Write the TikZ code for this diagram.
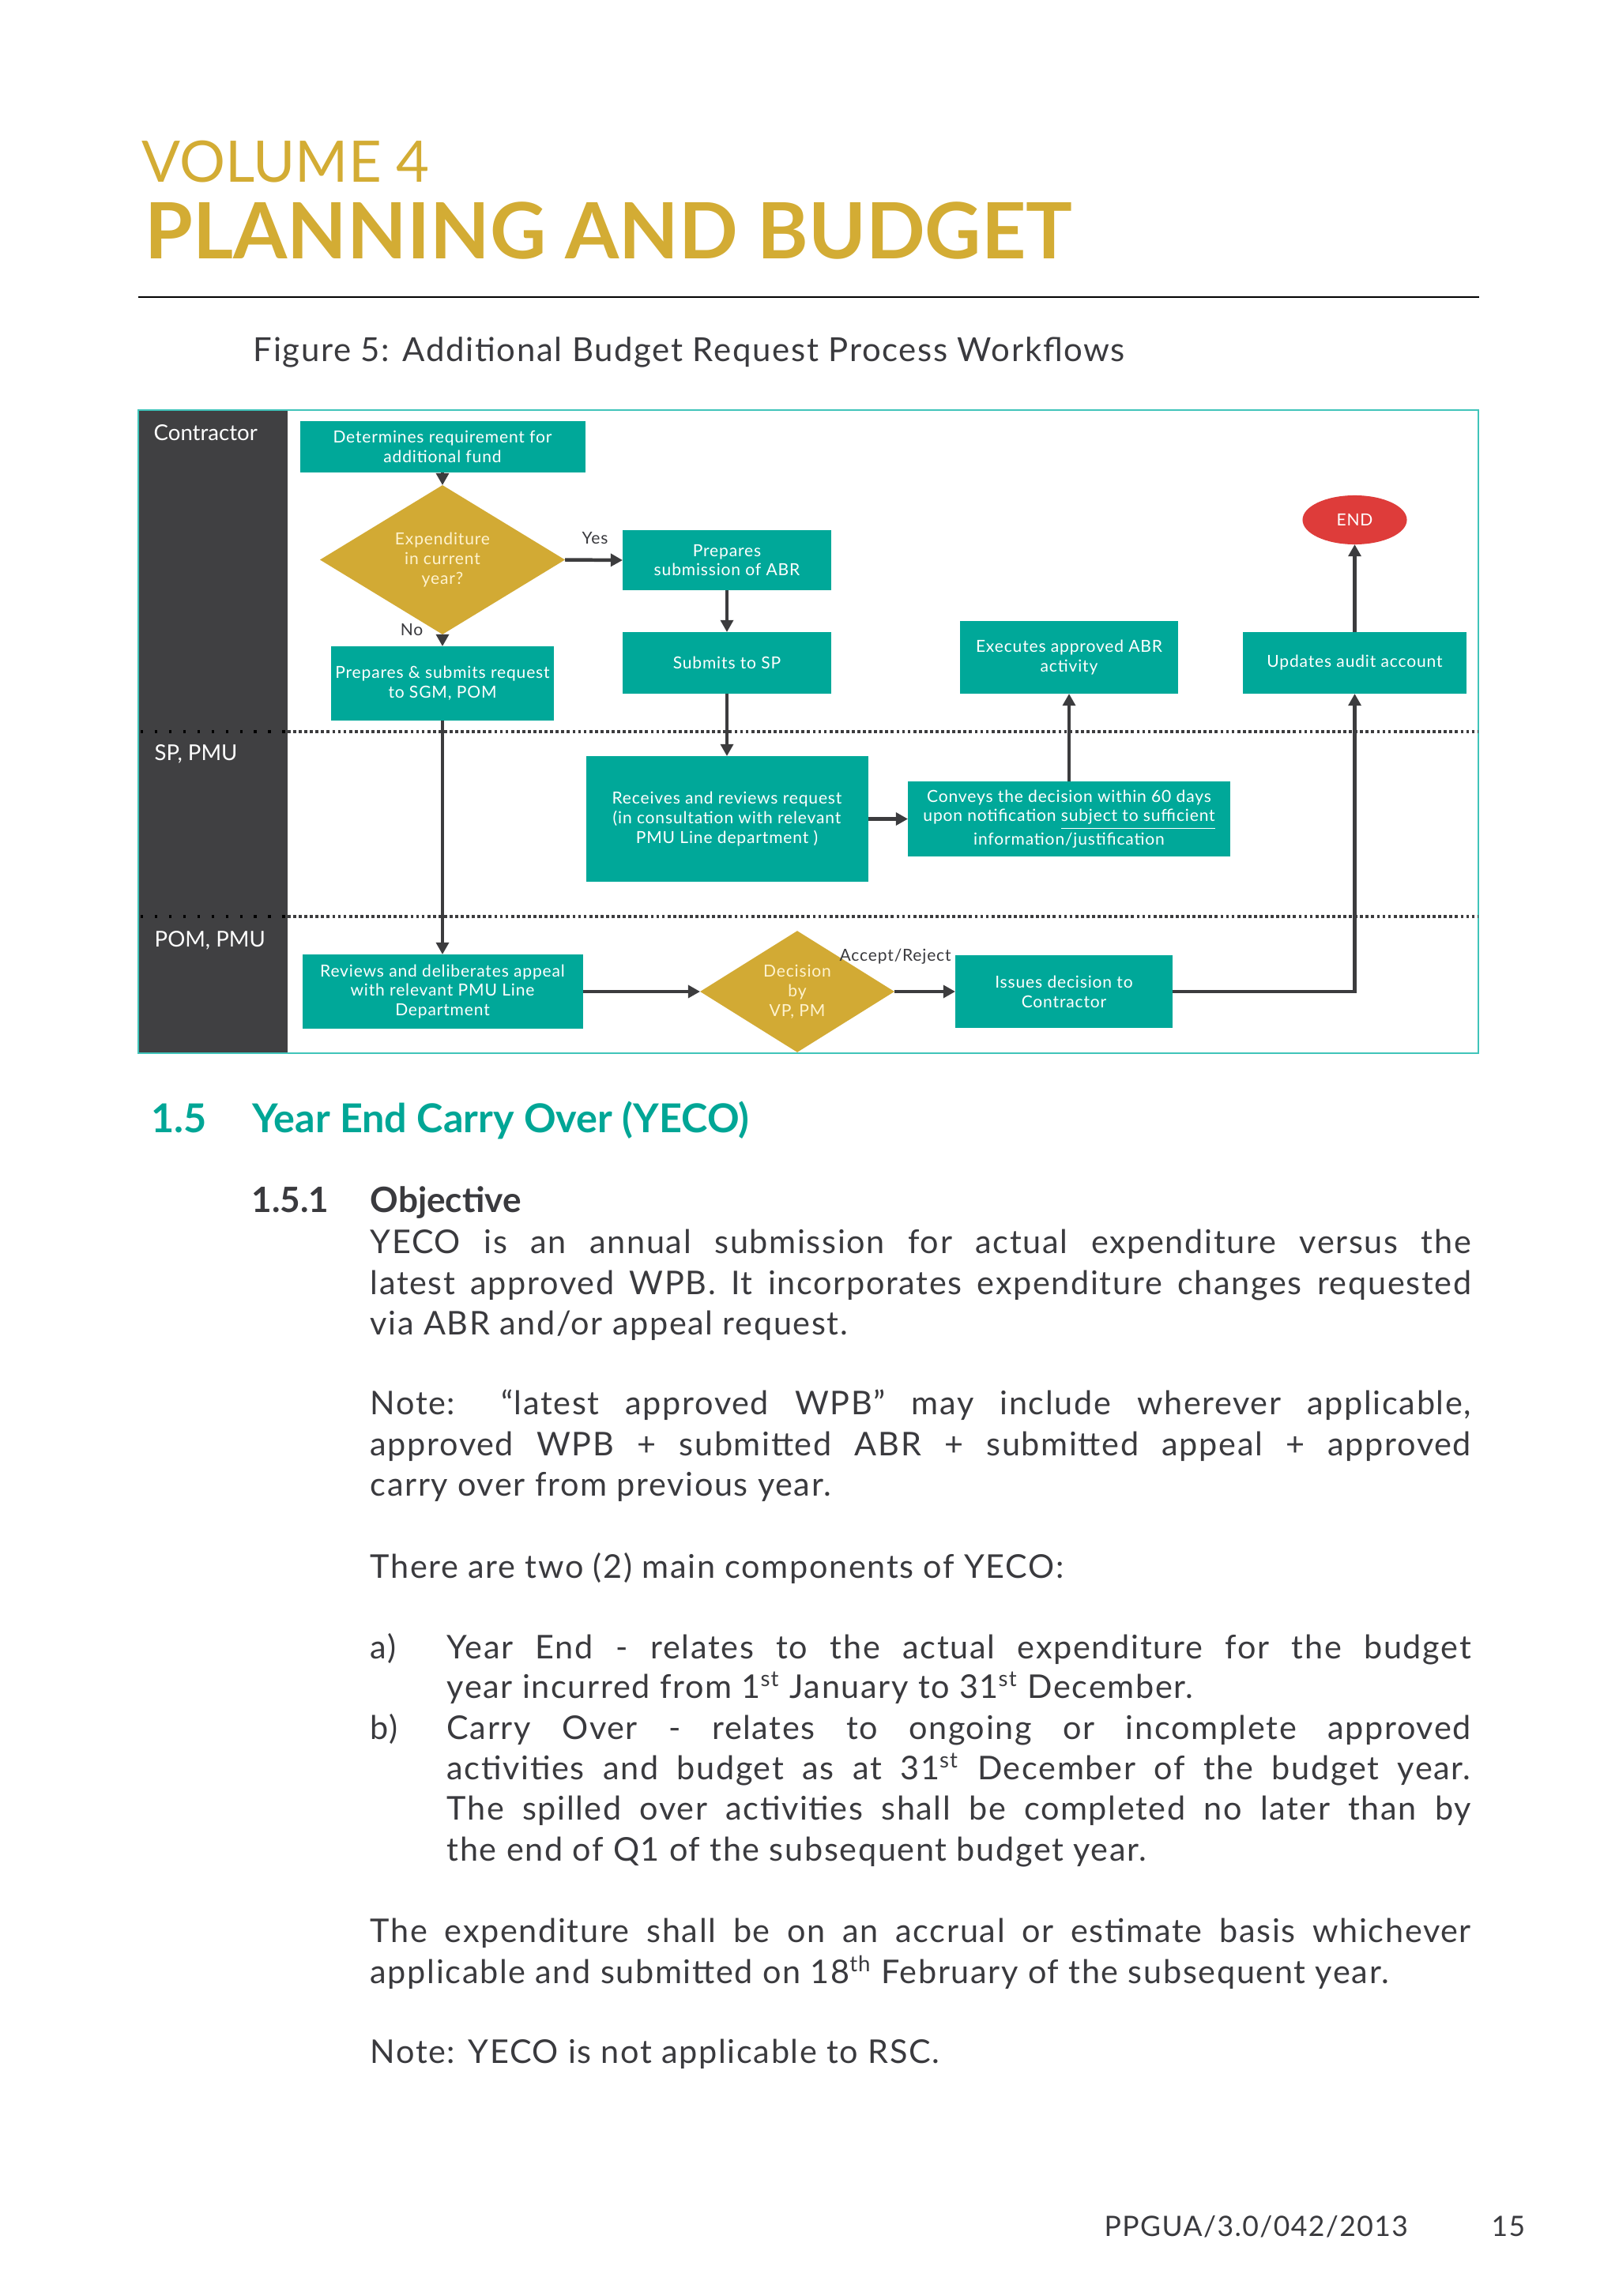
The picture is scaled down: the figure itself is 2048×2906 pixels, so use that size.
\documentclass[tikz,border=0pt]{standalone}
\usepackage{fontspec}
\setmainfont{Lato}
\newfontfamily\lsfont[LetterSpace=4]{Lato}
\usetikzlibrary{shapes.geometric,arrows.meta}
\definecolor{gold}{RGB}{211,172,52}
\definecolor{dgold}{RGB}{210,170,52}
\definecolor{teal}{RGB}{0,168,153}
\definecolor{headteal}{RGB}{0,166,150}
\definecolor{bar}{RGB}{64,64,66}
\definecolor{txt}{RGB}{58,58,62}
\definecolor{linecol}{RGB}{60,60,62}
\definecolor{endred}{RGB}{222,60,58}
\definecolor{framecol}{RGB}{64,196,186}
\definecolor{cream}{RGB}{255,243,207}
\begin{document}
\begin{tikzpicture}[x=0.29pt,y=-0.29pt,
  proc/.style={fill=teal, text=white, inner sep=0pt, outer sep=0pt, align=center,
    font=\lsfont\fontsize{6.1}{7.2}\selectfont},
  dec/.style={shape=diamond, fill=dgold, text=cream, inner sep=0pt, outer sep=0pt, align=center,
    font=\lsfont\fontsize{6.1}{7.2}\selectfont},
  term/.style={shape=ellipse, fill=endred, text=white, inner sep=0pt, outer sep=0pt,
    font=\lsfont\fontsize{6.1}{7.2}\selectfont},
  conn/.style={draw=linecol, line width=1.3pt, -{Triangle[length=4.4pt,width=4.6pt]}},
  lbl/.style={text=txt, inner sep=0pt, font=\lsfont\fontsize{6.1}{7.2}\selectfont},
  lane/.style={anchor=base west, text=white, inner sep=0pt, font=\fontsize{8}{9}\selectfont},
  body/.style={anchor=base west, inner sep=0pt, text=txt, font=\lsfont\fontsize{12}{15}\selectfont},
  dotmain/.style={draw=linecol, line width=1pt, dash pattern=on 1.1pt off 0.95pt},
  dotbar/.style={draw=black, line width=1pt, dash pattern=on 1pt off 4.2pt}
]
\useasboundingbox (0,0) rectangle (2048,2906);
\fill[white] (0,0) rectangle (2048,2906);

% ---------- header ----------
\node[anchor=base west, inner sep=0pt, text=gold, font=\fontsize{21}{21}\selectfont] (vol) at (179,231) {VOLUME 4};
\node[anchor=base west, inner sep=0pt, text=gold, font=\fontsize{28.5}{28}\selectfont\bfseries] (title) at (183,328) {PLANNING AND BUDGET};
\coordinate (ruleL) at (175,376);
\coordinate (ruleR) at (1872,376);
\draw[line width=0.8pt, black] (ruleL) -- (ruleR);
\node[anchor=base west, inner sep=0pt, text=txt, font=\lsfont\fontsize{12.15}{13}\selectfont] (cap) at (320,457) {Figure 5: Additional Budget Request Process Workflows};

% ---------- diagram frame and lanes ----------
\fill[bar] (175,519) rectangle (364,1333);
\draw[framecol, line width=0.6pt] (175,519) rectangle (1871,1333);
\draw[dotbar] (178,926) -- (364,926);
\draw[dotmain] (364,926) -- (1871,926);
\draw[dotbar] (178,1160) -- (364,1160);
\draw[dotmain] (364,1160) -- (1871,1160);
\node[lane] (l1) at (194,557) {Contractor};
\node[lane] (l2) at (195,962) {SP, PMU};
\node[lane] (l3) at (195,1198) {POM, PMU};

% ---------- nodes ----------
\node[proc, minimum width=104.69pt, minimum height=18.85pt] (b1) at (560,565.5) {Determines requirement for\\additional fund};
\node[dec, minimum width=89.9pt, minimum height=44.4pt] (d1) at (560,708.5) {Expenditure\\in current\\year?};
\node[proc, minimum width=76.56pt, minimum height=22.04pt] (b2) at (920,709) {Prepares\\submission of ABR};
\node[proc, minimum width=76.56pt, minimum height=22.62pt] (b3) at (920,839) {Submits to SP};
\node[proc, minimum width=81.78pt, minimum height=27.26pt] (b4) at (560,865) {Prepares \& submits request\\to SGM, POM};
\node[proc, minimum width=80.04pt, minimum height=26.68pt] (b5) at (1353,832) {Executes approved ABR\\activity};
\node[proc, minimum width=82.07pt, minimum height=22.62pt] (b6) at (1714.5,839) {Updates audit account};
\node[term, minimum width=38.3pt, minimum height=18pt] (end) at (1714.5,658) {END};
\node[proc, minimum width=103.53pt, minimum height=46.11pt] (b7) at (920,1036.5) {Receives and reviews request\\(in consultation with relevant\\PMU Line department )};
\node[proc, minimum width=118.32pt, minimum height=27.55pt] (b8) at (1353,1036.5) {Conveys the decision within 60 days\\upon notification \underline{subject to sufficient}\\information/justification};
\node[proc, minimum width=102.95pt, minimum height=27.26pt] (b9) at (560,1255) {Reviews and deliberates appeal\\with relevant PMU Line\\Department};
\node[dec, minimum width=71.3pt, minimum height=36pt] (d2) at (1009,1255) {Decision\\by\\VP, PM};
\node[proc, minimum width=79.75pt, minimum height=26.68pt] (b10) at (1346.5,1255) {Issues decision to\\Contractor};

% ---------- connectors ----------
\draw[conn] (b1.south) -- (d1.north);
\draw[conn] (d1.east) -- (b2.west);
\draw[conn] (d1.south) -- (b4.north);
\draw[conn] (b2.south) -- (b3.north);
\draw[conn] (b3.south) -- (b7.north);
\draw[conn] (b4.south) -- (b9.north);
\draw[conn] (b7.east) -- (b8.west);
\draw[conn] (b8.north) -- (b5.south);
\draw[conn] (b9.east) -- (d2.west);
\draw[conn] (d2.east) -- (b10.west);
\draw[conn] (b10.east) -| (b6.south);
\draw[conn] (b6.north) -- (end.south);
\node[lbl] (yes) at (753,681) {Yes};
\node[lbl] (no) at (521,797) {No};
\node[lbl, anchor=base west] (ar) at (1062,1216) {Accept/Reject};

% ---------- section text ----------
\node[anchor=base west, inner sep=0pt, text=headteal, font=\fontsize{14.6}{16}\selectfont\bfseries] (h15) at (191,1433) {1.5};
\node[anchor=base west, inner sep=0pt, text=headteal, font=\fontsize{14.6}{16}\selectfont\bfseries] (h15t) at (319,1433) {Year End Carry Over (YECO)};
\node[anchor=base west, inner sep=0pt, text=txt, font=\fontsize{12.8}{15}\selectfont\bfseries] (h151) at (318,1534) {1.5.1};
\node[anchor=base west, inner sep=0pt, text=txt, font=\fontsize{12.8}{15}\selectfont\bfseries] (h151t) at (468,1534) {Objective};

\node[body] (p1a) at (468,1586) {\makebox[404pt][s]{YECO is an annual submission for actual expenditure versus the}};
\node[body] (p1b) at (468,1638) {\makebox[404pt][s]{latest approved WPB. It incorporates expenditure changes requested}};
\node[body] (p1c) at (468,1689) {via ABR and/or appeal request.};

\node[body] (p2a) at (468,1790) {\makebox[404pt][s]{Note: “latest approved WPB” may include wherever applicable,}};
\node[body] (p2b) at (468,1842) {\makebox[404pt][s]{approved WPB + submitted ABR + submitted appeal + approved}};
\node[body] (p2c) at (468,1893) {carry over from previous year.};

\node[body] (p3) at (468,1997) {There are two (2) main components of YECO:};

\node[body] (la) at (468,2099) {a)};
\node[body] (la1) at (565,2099) {\makebox[375.8pt][s]{Year End - relates to the actual expenditure for the budget}};
\node[body] (la2) at (565,2149) {year incurred from 1\textsuperscript{st} January to 31\textsuperscript{st} December.};
\node[body] (lb) at (468,2201) {b)};
\node[body] (lb1) at (565,2201) {\makebox[375.8pt][s]{Carry Over - relates to ongoing or incomplete approved}};
\node[body] (lb2) at (565,2252) {\makebox[375.8pt][s]{activities and budget as at 31\textsuperscript{st} December of the budget year.}};
\node[body] (lb3) at (565,2303) {\makebox[375.8pt][s]{The spilled over activities shall be completed no later than by}};
\node[body] (lb4) at (565,2355) {the end of Q1 of the subsequent budget year.};

\node[body] (p4a) at (468,2458) {\makebox[404pt][s]{The expenditure shall be on an accrual or estimate basis whichever}};
\node[body] (p4b) at (468,2510) {applicable and submitted on 18\textsuperscript{th} February of the subsequent year.};

\node[body] (p5) at (468,2611) {Note: YECO is not applicable to RSC.};

% ---------- footer ----------
\node[body, font=\lsfont\fontsize{10.3}{13}\selectfont] (foot) at (1397,2830) {PPGUA/3.0/042/2013};
\node[body, font=\lsfont\fontsize{10.3}{13}\selectfont] (pg) at (1887,2830) {15};
\end{tikzpicture}
\end{document}
